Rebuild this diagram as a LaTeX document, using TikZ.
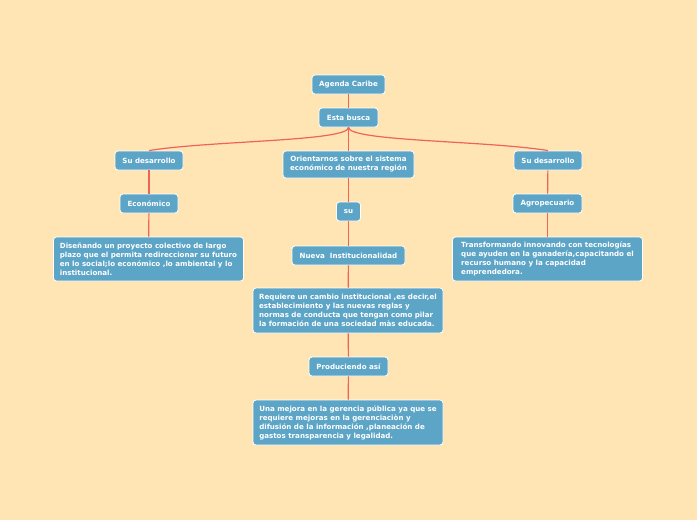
\documentclass[tikz,border=0pt]{standalone}
\usepackage{fontspec}
\setmainfont{DejaVu Sans}
\usetikzlibrary{positioning}
\definecolor{bgpaper}{HTML}{FFE5B4}
\definecolor{boxblue}{HTML}{5DA5C7}
\definecolor{linkred}{HTML}{F0625D}
\tikzset{
topic/.style={
draw=white,
line width=0.8pt,
rounded corners=3pt,
fill=boxblue,
text=white,
font=\fontsize{7.1}{9}\selectfont\bfseries,
align=center,
inner sep=2pt,
minimum height=19pt
},
note/.style={
topic,
align=left,
minimum width=190pt
},
link/.style={
draw=linkred,
line width=1.2pt
}
}
\begin{document}
\begin{tikzpicture}[x=1pt,y=-1pt]
\useasboundingbox (0,0) rectangle (697,520);
\fill[bgpaper] (0,0) rectangle (697,520);

% central column
\node[topic, minimum width=73pt] (agenda) at (348.5,84.5) {Agenda Caribe};
\node[topic, minimum width=59pt] (busca) at (348.5,117.5) {Esta busca};
\node[topic, minimum width=131pt, minimum height=27pt] (orient) at (348.5,164.5) {Orientarnos sobre el sistema\\económico de nuestra región};
\node[topic, minimum width=24pt] (su) at (348.5,211.5) {su};
\node[topic, minimum width=113pt] (nueva) at (348.5,255.5) {Nueva\ \ Institucionalidad};
\node[note, minimum height=45pt] (requiere) at (348,310.5) {Requiere un cambio institucional ,es decir,el\\establecimiento y las nuevas reglas y\\normas de conducta que tengan como pilar\\la formación de una sociedad màs educada.};
\node[topic, minimum width=79pt] (produc) at (348.5,366.5) {Produciendo así};
\node[note, minimum height=45pt] (mejora) at (348,422.5) {Una mejora en la gerencia pública ya que se\\requiere mejoras en la gerenciaciòn y\\difusión de la información ,planeación de\\gastos transparencia y legalidad.};

% left column
\node[topic, minimum width=68pt] (desizq) at (149,160.5) {Su desarrollo};
\node[topic, minimum width=58pt] (econ) at (149,203.5) {Económico};
\node[note, minimum height=44pt] (disen) at (148.5,259) {Diseñando un proyecto colectivo de largo\\plazo que el permita redireccionar su futuro\\en lo social;lo económico ,lo ambiental y lo\\institucional.};

% right column
\node[topic, minimum width=68pt] (desder) at (548,160.5) {Su desarrollo};
\node[topic, minimum width=69pt] (agro) at (547.5,203.5) {Agropecuario};
\node[note, minimum height=44pt] (transf) at (547.5,259) {Transformando innovando con tecnologías\\que ayuden en la ganadería,capacitando el\\recurso humano y la capacidad\\emprendedora.};

\draw[link] (agenda) -- (busca);
\draw[link] (busca.south) -- (orient.north);
\draw[link] (busca.south) .. controls ++(0,14) and ++(60,-10) .. (desizq.north);
\draw[link] (busca.south) .. controls ++(0,14) and ++(-60,-10) .. (desder.north);
\draw[link] (orient) -- (su);
\draw[link] (su) -- (nueva);
\draw[link] (nueva) -- (requiere);
\draw[link] (requiere) -- (produc);
\draw[link] (produc) -- (mejora);
\draw[link] (desizq) -- (econ);
\draw[link] (econ) -- (disen);
\draw[link] (desder) -- (agro);
\draw[link] (agro) -- (transf);
\end{tikzpicture}
\end{document}
